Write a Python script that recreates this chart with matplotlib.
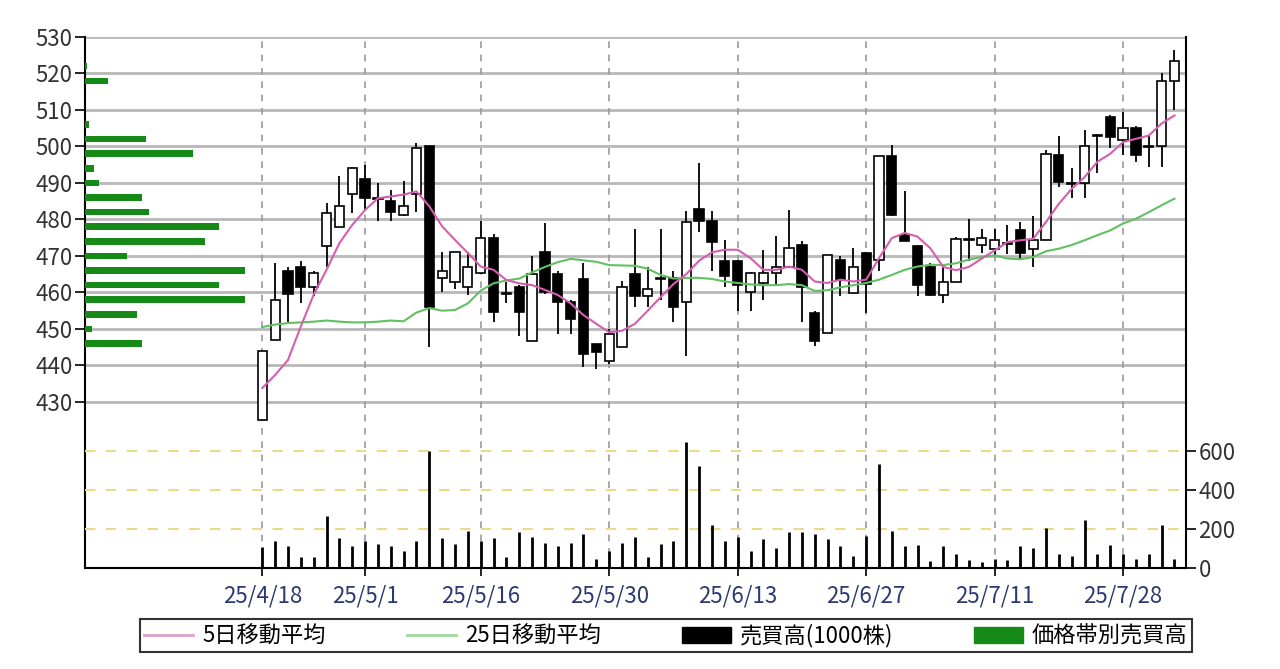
import matplotlib
matplotlib.use("Agg")
import matplotlib.pyplot as plt
from matplotlib.lines import Line2D
from matplotlib.patches import Patch
import numpy as np

plt.rcParams['font.family'] = ['Noto Sans CJK JP', 'DejaVu Sans']

# daily candles, 2025/4/18 .. 2025/8/1 (trading days)
opens = [425, 447, 466, 467, 461.5, 472.6, 478, 487, 491, 486,
         485, 481.3, 487, 500, 464, 463, 461.6, 465.3, 475, 459.8,
         461.4, 446.6, 471, 465, 457.3, 463.7, 446, 441.3, 445, 465,
         459.1, 463.8, 464, 457.3, 483, 479.7, 468.5, 468.5, 460, 462.6,
         465.3, 467.1, 473, 454.3, 449, 469, 459.8, 470.8, 469, 497.3,
         475.8, 472.6, 467, 459.2, 463, 474.6, 473, 472, 473.3, 477,
         472, 474.3, 497.6, 490.1, 490, 503.1, 508.1, 501.7, 505, 500.1,
         500, 518]
highs = [444, 468, 467, 468.5, 466, 484.5, 492, 494.5, 495, 490,
         488, 490.5, 501, 500, 471, 471.2, 471, 479.5, 476, 463,
         462, 470, 479, 466, 458, 468, 446, 450, 463.2, 477.4,
         467, 477.5, 466, 482.4, 495.5, 482.4, 474.4, 469, 465.5, 471.7,
         475.5, 482.6, 474, 455, 470.3, 470, 472.1, 471, 497.5, 500.5,
         487.7, 473, 468, 467, 475.2, 480, 477.5, 477.5, 478.6, 479.4,
         481, 499, 503, 494, 504.6, 503.5, 508.5, 509.5, 505.5, 503,
         520, 526.4]
lows = [425, 447, 452, 457, 459, 467, 478, 481.7, 482.6, 479.5,
        479.5, 481, 482, 445, 460, 461, 459.4, 465, 452, 457,
        448, 446.6, 459.6, 448.6, 448.6, 439.5, 439, 440.4, 445, 456,
        456, 458, 452, 442.7, 476.5, 466, 461.5, 454.8, 454.8, 458,
        462, 467, 452, 445.2, 449, 459, 459.8, 454.3, 466, 481,
        474, 459, 459, 457, 463, 468.6, 470.7, 470, 470.6, 469.3,
        467, 474.3, 489, 485.8, 485.8, 492.6, 499.5, 497.6, 495.8, 494.5,
        494.5, 510]
closes = [444, 458, 459.5, 461.5, 465.3, 481.7, 483.6, 494, 486, 485.5,
          482, 483.6, 499.5, 456, 466, 471, 467, 475, 454.6, 459.6,
          454.6, 465, 460, 457.3, 452.7, 443.2, 443.6, 448.6, 461.4, 459,
          461, 463.6, 456, 479.2, 479.5, 473.7, 464.4, 462, 465.3, 465.3,
          467.1, 472.1, 461.6, 446.6, 470.3, 463.5, 467.1, 462.4, 497.3, 481.3,
          474, 462, 459.4, 463, 474.7, 474.4, 474.8, 474.3, 473.5, 470.7,
          474.3, 498, 490.3, 489.8, 500, 502.9, 502.6, 505, 497.6, 499.9,
          518, 523.5]

# moving averages as drawn
ma5 = [433.8, 437.4, 441.5, 450.7, 459.4, 466.2, 473.5, 478.5, 482.6, 485.8,
       486.3, 486.8, 487.7, 483.6, 478.1, 474.4, 470.8, 467.1, 466.2, 463.4,
       462.5, 462, 460.7, 459.3, 457, 453.8, 451.4, 449.1, 449.5, 451.4,
       455, 458.7, 462.3, 465, 468.7, 471, 471.7, 471.7, 469.4, 466.2,
       466.2, 467.1, 466.2, 463, 462.6, 463.5, 463, 463.5, 469.4, 474.9,
       476.3, 475.3, 472.1, 467, 466.1, 467, 469.3, 471.5, 473.8, 474.3,
       474.7, 479.3, 484.3, 488.4, 491.6, 495.8, 498, 501.2, 502.1, 503,
       506.3, 508.5]
ma25 = [450.5, 451.2, 451.6, 451.8, 452, 452.3, 452, 451.8, 451.8, 452,
        452.3, 452.1, 454.5, 455.7, 455, 455.2, 457, 460.5, 462.5, 463.3,
        463.8, 465.5, 467, 468.3, 469.2, 468.8, 468.4, 467.5, 467.4, 467.3,
        466.5, 464.8, 463.8, 464, 464, 463.7, 463, 462.6, 462.2, 462,
        462, 462.3, 462, 460.4, 460.6, 461.4, 462, 462.6, 463.5, 464.8,
        466.2, 467.1, 467.6, 467.5, 468, 469, 469.7, 470.2, 469.3, 469.1,
        469.7, 471.3, 472, 473, 474.3, 475.7, 477, 478.9, 480.2, 482,
        483.9, 485.7]

# volume (1000 shares)
volume = [106, 140, 115, 55, 55, 268, 152, 115, 140, 123,
          115, 89, 140, 598, 152, 123, 191, 140, 152, 55,
          186, 161, 126, 115, 126, 174, 46, 89, 126, 161,
          55, 123, 140, 644, 525, 221, 137, 158, 86, 149,
          100, 184, 184, 172, 149, 112, 64, 163, 532, 189,
          112, 120, 38, 112, 72, 43, 29, 48, 43, 112,
          100, 206, 72, 64, 244, 72, 120, 72, 48, 72,
          220, 48]

# volume by price band
band_price = [446, 450, 454, 458, 462, 466, 470, 474, 478, 482,
              486, 490, 494, 498, 502, 506, 518, 522]
band_vol = [570, 70, 520, 1600, 1340, 1600, 420, 1200, 1340, 640,
            570, 140, 90, 1080, 610, 40, 230, 20]

tick_idx = [0, 8, 17, 27, 37, 47, 57, 67]
tick_labels = ["25/4/18", "25/5/1", "25/5/16", "25/5/30",
               "25/6/13", "25/6/27", "25/7/11", "25/7/28"]

o = np.array(opens)
h = np.array(highs)
l = np.array(lows)
c = np.array(closes)
x = np.arange(len(o))

fig = plt.figure(figsize=(12.8, 6.69), dpi=100)
ax = fig.add_axes([0.0664, 0.151, 0.8602, 0.7937])
ax.set_xlim(-13.8, 71.9)
ax.set_ylim(384.5, 530)

for p in range(430, 531, 10):
    ax.axhline(p, color='#b8b8b8', lw=2, zorder=1)
for t in tick_idx:
    ax.axvline(t, color='#9a9a9a', lw=1.2, ls=(0, (4, 4)), zorder=1)

# candles
ax.vlines(x, l, h, color='black', lw=1.3, zorder=3)
up = c >= o
body_bottom = np.minimum(o, c)
body_height = np.maximum(np.abs(c - o), 0.3)
ax.bar(x, body_height, bottom=body_bottom, width=0.72,
       color=np.where(up, 'white', 'black'), edgecolor='black', lw=1.2, zorder=4)

ax.plot(x, ma25, color='#62c062', lw=1.5, zorder=5)
ax.plot(x, ma5, color='#d45fae', lw=1.5, zorder=6)

ax.set_yticks(range(430, 531, 10))
ax.set_xticks(tick_idx, tick_labels)
ax.tick_params(axis='y', direction='out', length=7, width=1.2, labelsize=16,
               labelcolor='#333333', pad=2)
ax.tick_params(axis='x', direction='out', length=6, width=1.2, labelsize=16,
               labelcolor='#2b3a70', pad=6)
ax.spines['top'].set_visible(False)
for s in ['left', 'bottom', 'right']:
    ax.spines[s].set_linewidth(1.5)

# volume axis on the right
axv = ax.twinx()
axv.set_ylim(0, 2723)
for v in [200, 400, 600]:
    axv.axhline(v, color='#e6dc8a', lw=1.5, ls=(0, (5, 5)), zorder=1)
axv.vlines(x, 0, volume, color='black', lw=2, zorder=3)
axv.set_yticks([0, 200, 400, 600])
axv.tick_params(axis='y', direction='out', length=7, width=1.2, labelsize=16,
                labelcolor='#333333', pad=2)
for s in axv.spines.values():
    s.set_visible(False)

# volume-by-price profile from the left edge
axp = ax.twiny()
axp.set_xlim(0, 11010)
axp.barh(band_price, band_vol, height=1.8, left=0, color='#168a16', zorder=3)
axp.set_xticks([])
for s in axp.spines.values():
    s.set_visible(False)

handles = [Line2D([], [], color='#e0a0cc', lw=2),
           Line2D([], [], color='#a0d8a0', lw=2),
           Patch(facecolor='black', edgecolor='black'),
           Patch(facecolor='#168a16', edgecolor='#168a16')]
labels = ["5日移動平均", "25日移動平均", "売買高(1000株)", "価格帯別売買高"]
leg = fig.legend(handles, labels, loc='lower left', ncol=4, mode='expand',
                 bbox_to_anchor=(140 / 1280, 1 - 652 / 669, 1052 / 1280, 34 / 669),
                 fontsize=16, frameon=True, fancybox=False, edgecolor='black',
                 borderpad=0.2, handlelength=2.2, handletextpad=0.4,
                 borderaxespad=0)
leg.get_frame().set_linewidth(1.5)

fig.savefig("out.png", dpi=100)
